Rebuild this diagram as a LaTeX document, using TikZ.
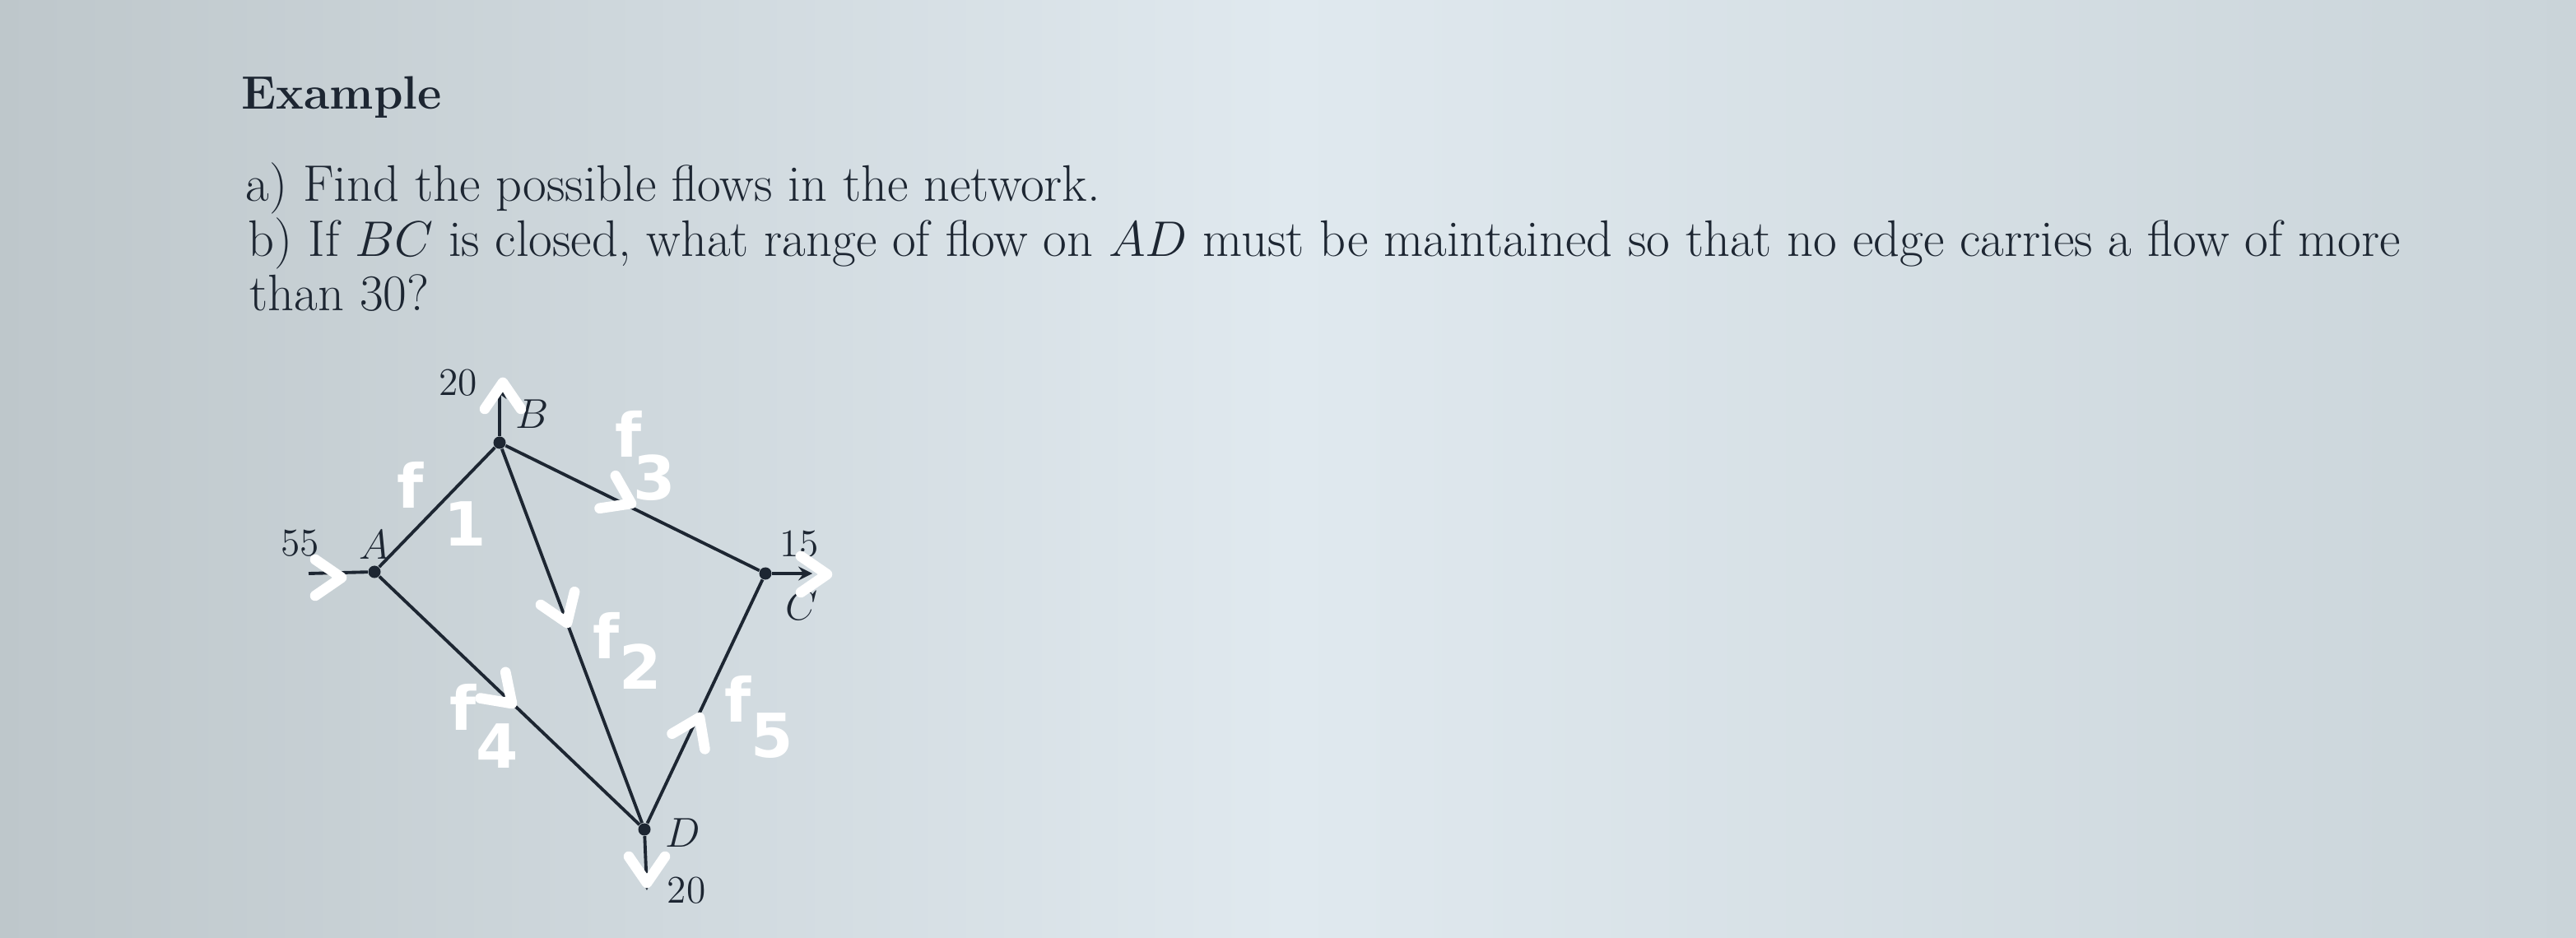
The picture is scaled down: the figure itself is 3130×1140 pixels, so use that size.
\documentclass[tikz,border=0pt]{standalone}
\usepackage{amsmath}
\usepackage{fontspec}
\usepackage{xcolor}
\newfontfamily\handfont{DejaVu Sans}
\usetikzlibrary{positioning,arrows}
\definecolor{ink}{HTML}{1D2632}
\definecolor{bgl}{HTML}{BEC7CB}
\definecolor{bgm}{HTML}{E0E9EF}
\definecolor{bgr}{HTML}{CAD4D9}
% handwritten flow name: f, a kern, and a lowered digit
\newcommand{\flw}[3]{f\kern#1\raisebox{-#2}{#3}}

\begin{document}
\begin{tikzpicture}[x=0.01cm,y=0.01cm,>=stealth,
    every node/.style={on grid},
    vertex/.style={circle,fill=ink,inner sep=0pt,minimum size=0.15cm},
    edge/.style={draw=ink,line width=1.1pt},
    lbl/.style={text=ink,inner sep=0pt,font=\fontsize{13.5}{15}\selectfont},
    body/.style={anchor=base west,inner sep=0pt,text=ink,font=\fontsize{17.75}{20}\selectfont},
    flow/.style={anchor=base west,inner sep=0pt,text=white,font=\handfont\bfseries\fontsize{21}{24}\selectfont},
    hand/.style={draw=white,line width=3.6pt,line cap=round,line join=round},
    chev/.pic={\draw[hand] (-32,22) -- (0,0) -- (-32,-22);}]
    \shade[left color=bgl,right color=bgr,middle color=bgm] (0,0) rectangle (3130,-1140);
    \useasboundingbox (0,0) rectangle (3130,-1140);
    % question text
    \node[body,font=\bfseries\fontsize{16.2}{19}\selectfont] (title) at (293,-133) {Example};
    \node[body] (qa) at (298,-245) {a) Find the possible flows in the network.};
    \node[body] (qb) at (301,-312) {b) If $BC$ is closed, what range of flow on $AD$ must be maintained so that no edge carries a flow of more};
    \node[body] (qc) at (303,-378) {than 30?};
    % network
    \node[vertex] (A) at (455,-695) {};
    \node[vertex] (B) at (607,-538) {};
    \node[vertex] (C) at (930,-697) {};
    \node[vertex] (D) at (783,-1008) {};
    \coordinate (inA) at (375,-697);
    \coordinate (outB) at (607,-468);
    \coordinate (outC) at (987,-697);
    \coordinate (outD) at (786,-1082);
    \draw[edge] (A) -- (B);
    \draw[edge] (B) -- (C);
    \draw[edge] (B) -- (D);
    \draw[edge] (A) -- (D);
    \draw[edge] (C) -- (D);
    \draw[edge] (inA) -- (A);
    \draw[edge,->] (B) -- (outB);
    \draw[edge,->] (C) -- (outC);
    \draw[edge,->] (D) -- (outD);
    \node[lbl,above left=0.35cm and 0.9cm of A] (nA) {55};
    \node[lbl,above=0.33cm of A] (lA) {$A$};
    \node[lbl,above left=0.73cm and 0.5cm of B] (nB) {20};
    \node[lbl,above right=0.35cm and 0.4cm of B] (lB) {$B$};
    \node[lbl,above right=0.36cm and 0.41cm of C] (nC) {15};
    \node[lbl,below right=0.39cm and 0.44cm of C] (lC) {$C$};
    \node[lbl,below right=0.04cm and 0.47cm of D] (lD) {$D$};
    \node[lbl,below right=0.74cm and 0.51cm of D] (nD) {20};
    % white marks written on top
    \node[flow] (f1) at (482,-617) {\flw{0.25cm}{0.46cm}{1}};
    \node[flow] (f3) at (747,-555) {\flw{-0.1cm}{0.52cm}{3}};
    \node[flow] (f2) at (720,-800) {\flw{0cm}{0.37cm}{2}};
    \node[flow] (f4) at (546,-887) {\flw{0cm}{0.46cm}{4}};
    \node[flow] (f5) at (880,-877) {\flw{0cm}{0.43cm}{5}};
    \pic[rotate=0] at (415,-702) {chev};
    \pic[rotate=90] at (611,-465) {chev};
    \pic[rotate=-26] at (767,-612) {chev};
    \pic[rotate=-69] at (689,-757) {chev};
    \pic[rotate=-44] at (622,-855) {chev};
    \pic[rotate=65] at (850,-872) {chev};
    \pic[rotate=0] at (1005,-698) {chev};
    \pic[rotate=-90] at (786,-1073) {chev};
\end{tikzpicture}
\end{document}
